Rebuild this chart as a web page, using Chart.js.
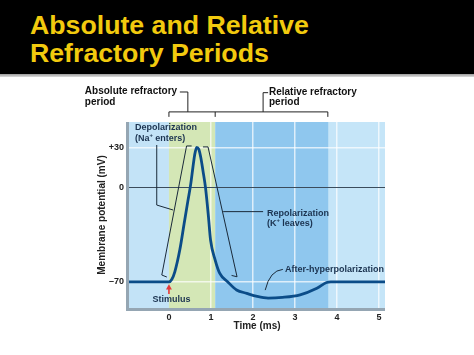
<!DOCTYPE html>
<html>
<head>
<meta charset="utf-8">
<script src="https://cdn.jsdelivr.net/npm/chart.js@4.4.1/dist/chart.umd.min.js"></script>
<style>
  html, body { margin: 0; padding: 0; background: #fff; width: 474px; height: 355px; overflow: hidden; }
  #hdr { position: absolute; left: 0; top: 0; width: 474px; height: 74px; background: #000; }
  #hdr .t { position: absolute; left: 30px; top: 11px; font: bold 26.7px 'Liberation Sans', Arial, sans-serif; line-height: 28px; color: #f2ca0e; }
  #sep { position: absolute; left: 0; top: 74px; width: 474px; height: 3px; background: linear-gradient(#9a9a9a, #dcdcdc); }
  #c { position: absolute; left: 0; top: 0; }
</style>
</head>
<body>
<div id="hdr"><div class="t">Absolute and Relative<br>Refractory Periods</div></div>
<div id="sep"></div>
<canvas id="c" width="474" height="355"></canvas>
<script>
// action potential trace (ms, mV)
const timeMs = [-0.95, 0, 0.07, 0.14, 0.26, 0.36, 0.45, 0.52, 0.57, 0.61, 0.66, 0.71, 0.76, 0.81, 0.87, 0.94, 0.99, 1.1, 1.21, 1.4, 1.61, 1.85, 2.1, 2.36, 2.7, 3.12, 3.52, 3.75, 3.85, 5.14];
const membraneMv = [-70, -70, -68, -62.5, -46, -27, -10, 3, 15, 24, 30, 28.5, 22, 12.5, 0, -21.5, -38.9, -53.8, -63.7, -70, -76, -78.5, -80.8, -82, -81.5, -79.6, -74.7, -70.5, -70, -70];

const xTicks = [0, 1, 2, 3, 4, 5];
const yTicks = [30, 0, -70];
const yTickLabels = ['+30', '0', '\u201370'];

// shaded periods: before stimulus, absolute, relative, after
const periodStart = [-0.95, 0, 1.1, 3.8];
const periodEnd = [0, 1.1, 3.8, 5.14];

const FONT = "'Liberation Sans', Arial, sans-serif";
const BAND_COLORS = ['#c3e3f7', '#d4e7b6', '#8fc7ee', '#c5e5f8'];
const INK = '#1b3350';

function poly(ctx, x, y, pts) {
  ctx.beginPath();
  pts.forEach(([t, v], i) => {
    const px = x.getPixelForValue(t), py = y.getPixelForValue(v);
    if (i) ctx.lineTo(px, py); else ctx.moveTo(px, py);
  });
  ctx.stroke();
}

// text with a superscript "+" after the given prefix
function supText(ctx, px, py, pre, post, size) {
  ctx.font = `bold ${size}px ${FONT}`;
  ctx.fillText(pre, px, py);
  let w = ctx.measureText(pre).width;
  ctx.font = `bold ${size * 0.65}px ${FONT}`;
  ctx.fillText('+', px + w, py - size * 0.35);
  w += ctx.measureText('+').width;
  ctx.font = `bold ${size}px ${FONT}`;
  ctx.fillText(post, px + w, py);
}

const periodsPlugin = {
  id: 'periods',
  beforeDraw(chart) {
    const {ctx, chartArea: a, scales: {x}} = chart;
    ctx.save();
    ctx.fillStyle = '#95a6b3';
    ctx.fillRect(a.left - 3, a.top, 3, a.height + 3);
    ctx.fillRect(a.left - 3, a.bottom, a.width + 3, 3);
    periodStart.forEach((s, i) => {
      const x0 = Math.max(x.getPixelForValue(s), a.left);
      const x1 = Math.min(x.getPixelForValue(periodEnd[i]), a.right);
      ctx.fillStyle = BAND_COLORS[i];
      ctx.fillRect(x0, a.top, x1 - x0, a.height);
    });
    ctx.restore();
  },
  afterDatasetsDraw(chart) {
    const {ctx, scales: {x, y}} = chart;
    const X = t => x.getPixelForValue(t), Y = v => y.getPixelForValue(v);
    ctx.save();
    ctx.lineWidth = 1;
    ctx.textBaseline = 'middle';
    ctx.textAlign = 'left';

    // brackets over the plot
    ctx.strokeStyle = '#222';
    poly(ctx, x, y, [[0, 52.6], [0, 56.3], [3.78, 56.3], [3.78, 52.6]]);
    poly(ctx, x, y, [[1.1, 56.3], [1.1, 52.6]]);
    poly(ctx, x, y, [[0.45, 56.3], [0.45, 71.1], [0.26, 71.1]]);
    poly(ctx, x, y, [[2.24, 56.3], [2.24, 70.6], [2.36, 70.6]]);
    ctx.fillStyle = '#111';
    ctx.font = `bold 10px ${FONT}`;
    ctx.fillText('Absolute refractory', X(-2.0), Y(71.6));
    ctx.fillText('period', X(-2.0), Y(63.7));
    ctx.fillText('Relative refractory', X(2.38), Y(71.1));
    ctx.fillText('period', X(2.38), Y(63.7));

    // leaders inside the plot
    ctx.strokeStyle = '#1a2a3a';
    poly(ctx, x, y, [[0.54, 31.0], [0.42, 31.0], [-0.17, -64.9], [-0.05, -66.4]]);
    poly(ctx, x, y, [[-0.29, 31.7], [-0.29, -12.9], [0.10, -16.6]]);
    poly(ctx, x, y, [[0.81, 30.3], [0.93, 30.3], [1.62, -66.2], [1.49, -65.2]]);
    poly(ctx, x, y, [[1.29, -17.8], [2.24, -17.8]]);
    ctx.beginPath();
    ctx.moveTo(X(2.29), Y(-76.1));
    ctx.quadraticCurveTo(X(2.40), Y(-61.5), X(2.71), Y(-60.7));
    ctx.stroke();

    ctx.fillStyle = INK;
    ctx.font = `bold 9px ${FONT}`;
    ctx.fillText('Depolarization', X(-0.81), Y(44.4));
    supText(ctx, X(-0.81), Y(36.2), '(Na', ' enters)', 9);
    ctx.font = `bold 9px ${FONT}`;
    ctx.fillText('Repolarization', X(2.33), Y(-19.5));
    supText(ctx, X(2.33), Y(-26.4), '(K', ' leaves)', 9);
    ctx.font = `bold 9px ${FONT}`;
    ctx.fillText('After-hyperpolarization', X(2.76), Y(-60.6));
    ctx.textAlign = 'center';
    ctx.fillText('Stimulus', X(0.06), Y(-83.3));

    // stimulus arrow
    ctx.strokeStyle = '#e5383b';
    ctx.fillStyle = '#e5383b';
    ctx.lineWidth = 1.6;
    ctx.beginPath();
    ctx.moveTo(X(0), Y(-79));
    ctx.lineTo(X(0), Y(-74));
    ctx.stroke();
    ctx.beginPath();
    ctx.moveTo(X(0), Y(-71.8));
    ctx.lineTo(X(0) - 3, Y(-75.6));
    ctx.lineTo(X(0) + 3, Y(-75.6));
    ctx.closePath();
    ctx.fill();
    ctx.restore();
  }
};

new Chart(document.getElementById('c').getContext('2d'), {
  type: 'line',
  data: {
    datasets: [{
      data: timeMs.map((t, i) => ({x: t, y: membraneMv[i]})),
      borderColor: '#0b4c88', borderWidth: 2.8,
      pointRadius: 0, fill: false,
      cubicInterpolationMode: 'monotone'
    }]
  },
  options: {
    responsive: false, animation: false, devicePixelRatio: 1,
    layout: {padding: {left: 90, right: 89, top: 122, bottom: 23}},
    plugins: {legend: {display: false}, tooltip: {enabled: false}},
    scales: {
      x: {
        type: 'linear', min: -0.95, max: 5.14,
        afterBuildTicks: s => { s.ticks = xTicks.map(v => ({value: v})); },
        afterFit: s => { s.height = 24; },
        border: {display: false},
        grid: {drawTicks: false, lineWidth: 1.5, color: c => c.tick && c.tick.value === 0 ? 'rgba(0,0,0,0)' : 'rgba(255,255,255,0.7)'},
        ticks: {padding: 4, color: '#222', font: {family: FONT, size: 9, weight: 'bold'}},
        title: {display: true, text: 'Time (ms)', color: '#222', padding: 0, font: {family: FONT, size: 10, weight: 'bold'}}
      },
      y: {
        min: -89.4, max: 48.8,
        afterBuildTicks: s => { s.ticks = yTicks.map(v => ({value: v})); },
        afterFit: s => { s.width = 39; },
        border: {display: false},
        grid: {
          drawTicks: false,
          lineWidth: c => c.tick && c.tick.value === 0 ? 1 : 1.5,
          color: c => c.tick && c.tick.value === 0 ? '#3b4c5c' : 'rgba(255,255,255,0.7)'
        },
        ticks: {
          padding: 5, color: '#222', font: {family: FONT, size: 9, weight: 'bold'},
          callback: v => yTickLabels[yTicks.indexOf(v)]
        },
        title: {display: true, text: 'Membrane potential (mV)', color: '#222', padding: {top: 6, bottom: 0}, font: {family: FONT, size: 10, weight: 'bold'}}
      }
    }
  },
  plugins: [periodsPlugin]
});
</script>
</body>
</html>
